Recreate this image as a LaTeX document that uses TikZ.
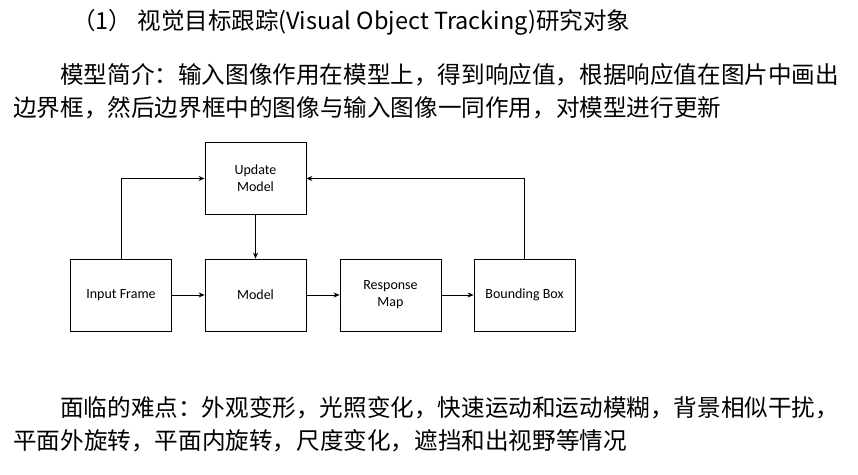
\documentclass[tikz,border=0pt]{standalone}
\usepackage{fontspec}
\setmainfont{Noto Sans CJK SC}
\newfontfamily\boxfont{Carlito}
\usetikzlibrary{arrows.meta}
\begin{document}
\begin{tikzpicture}[x=1pt,y=-1pt,
  bx/.style={draw,line width=0.8pt,minimum width=101pt,minimum height=72pt,inner sep=0pt,align=center,font=\boxfont\fontsize{14}{17}\selectfont},
  ar/.style={-{Stealth[length=6pt,width=5pt]},line width=0.7pt},
  txt/.style={anchor=west,inner sep=0pt,font=\fontsize{23.6}{26}\selectfont}]
\useasboundingbox (0,0) rectangle (858,474);
\node[txt,font=\fontsize{23.5}{26}\selectfont] (t) at (72,22) {（1） 视觉目标跟踪(Visual Object Tracking)研究对象};
\node[txt] (p1) at (60,75) {模型简介：输入图像作用在模型上，得到响应值，根据响应值在图片中画出};
\node[txt] (p2) at (13,108) {边界框，然后边界框中的图像与输入图像一同作用，对模型进行更新};
\node[txt] (q1) at (60,408) {面临的难点：外观变形，光照变化，快速运动和运动模糊，背景相似干扰，};
\node[txt] (q2) at (13,441) {平面外旋转，平面内旋转，尺度变化，遮挡和出视野等情况};
\node[bx] (u) at (255.5,178.5) {Update\\Model};
\node[bx] (i) at (121,295) {Input Frame};
\node[bx] (m) at (255.5,295) {Model};
\node[bx] (r) at (390.5,295) {Response\\Map};
\node[bx] (b) at (524.5,295) {Bounding Box};
\draw[ar] (i) -- (m);
\draw[ar] (m) -- (r);
\draw[ar] (r) -- (b);
\draw[ar] (u) -- (m);
\draw[ar] (i.north) |- (u.west);
\draw[ar] (b.north) |- (u.east);
\end{tikzpicture}
\end{document}
